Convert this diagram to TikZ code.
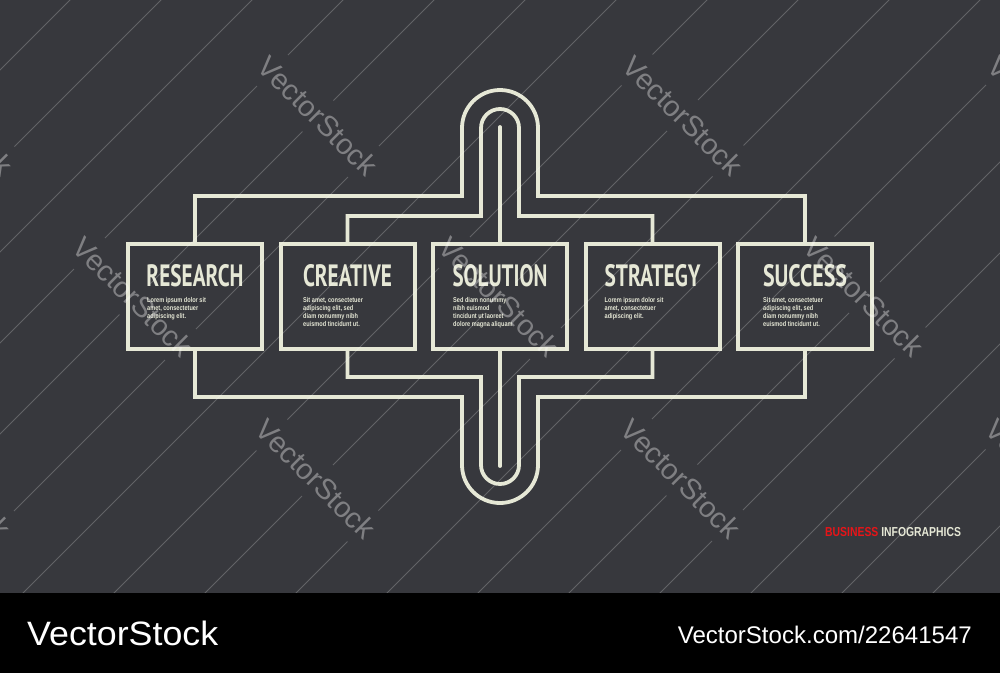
\documentclass[tikz,border=0pt]{standalone}
\usepackage{fontspec}
\usepackage{graphicx}
\setmainfont{Liberation Sans}
\newfontfamily\titlefont{PT Sans}
\newfontfamily\bodyfont{Liberation Sans}[FakeStretch=0.8]
\newfontfamily\infofont{Liberation Sans}[FakeStretch=0.8]
\definecolor{bg}{RGB}{55,56,61}
\definecolor{cream}{RGB}{230,232,214}
\definecolor{bred}{RGB}{232,20,24}
\tikzset{
  stepbox/.style={draw=cream, line width=4pt, minimum width=134pt, minimum height=105pt, inner sep=0pt},
  link/.style={draw=cream, line width=3.8pt},
  ttl/.style={text=cream, inner sep=0pt, font=\titlefont\bfseries},
  body/.style={text=cream, inner sep=0pt, anchor=north west, align=left, font=\bodyfont\bfseries\fontsize{7}{8}\selectfont},
  diag/.style={draw=white, draw opacity=0.22, line width=0.8pt},
  wm/.style={text=white, text opacity=0.36, inner sep=0pt, rotate=-45, font=\fontsize{29}{29}\selectfont}
}
\begin{document}
\begin{tikzpicture}[x=1pt,y=-1pt]
\useasboundingbox (0,0) rectangle (1000,673);
\fill[bg] (0,0) rectangle (1000,593);

% boxes
\node[stepbox] (b1) at (195,296.5) {};
\node[stepbox] (b2) at (347.5,296.5) {};
\node[stepbox] (b3) at (500,296.5) {};
\node[stepbox] (b4) at (652.5,296.5) {};
\node[stepbox] (b5) at (805,296.5) {};

\coordinate (ctop) at (500,127);
\coordinate (cbot) at (500,466);

% top frames
\draw[link] (b1.north) |- (462,196) -- (462,128) arc[start angle=180, end angle=360, radius=38] -- (538,196) -| (b5.north);
\draw[link] (b2.north) |- (481,216) -- (481,128) arc[start angle=180, end angle=360, radius=19] -- (519,216) -| (b4.north);
\draw[link, line cap=round] (ctop) -- (b3.north);
% bottom frames
\draw[link] (b1.south) |- (462,397) -- (462,465) arc[start angle=180, end angle=0, radius=38] -- (538,397) -| (b5.south);
\draw[link] (b2.south) |- (481,377) -- (481,465) arc[start angle=180, end angle=0, radius=19] -- (519,377) -| (b4.south);
\draw[link, line cap=round] (b3.south) -- (cbot);

% titles
\node[ttl] (t1) at (195,276) {\resizebox{97pt}{22pt}{RESEARCH}};
\node[ttl] (t2) at (347.5,276) {\resizebox{89pt}{22pt}{CREATIVE}};
\node[ttl] (t3) at (500,276) {\resizebox{95pt}{22pt}{SOLUTION}};
\node[ttl] (t4) at (652.5,276) {\resizebox{96pt}{22pt}{STRATEGY}};
\node[ttl] (t5) at (805,276) {\resizebox{84pt}{22pt}{SUCCESS}};

% bodies
\node[body] (d1) at (147,297) {Lorem ipsum dolor sit\\amet, consectetuer\\adipiscing elit.};
\node[body] (d2) at (303,297) {Sit amet, consectetuer\\adipiscing elit, sed\\diam nonummy nibh\\euismod tincidunt ut.};
\node[body] (d3) at (453,297) {Sed diam nonummy\\nibh euismod\\tincidunt ut laoreet\\dolore magna aliquam};
\node[body] (d4) at (604.5,297) {Lorem ipsum dolor sit\\amet, consectetuer\\adipiscing elit.};
\node[body] (d5) at (763,297) {Sit amet, consectetuer\\adipiscing elit, sed\\diam nonummy nibh\\euismod tincidunt ut.};

% label
\node[anchor=west, inner sep=0pt, font=\infofont\bfseries\fontsize{13}{13}\selectfont] (biz) at (825,532) {\textcolor{bred}{BUSINESS} \textcolor{cream}{INFOGRAPHICS}};

% watermark diagonal lines
\begin{scope}[even odd rule]
\clip (0,0) rectangle (1000,593)
  (26,158) -- (-5,189) -- (-120,74) -- (-89,43) -- cycle
  (391,158) -- (360,189) -- (245,74) -- (276,43) -- cycle
  (756,158) -- (725,189) -- (610,74) -- (641,43) -- cycle
  (1121,158) -- (1090,189) -- (975,74) -- (1006,43) -- cycle
  (206,339) -- (175,370) -- (60,255) -- (91,224) -- cycle
  (572,339) -- (541,370) -- (426,255) -- (457,224) -- cycle
  (937,339) -- (906,370) -- (791,255) -- (822,224) -- cycle
  (24,521) -- (-7,552) -- (-122,437) -- (-91,406) -- cycle
  (389,521) -- (358,552) -- (243,437) -- (274,406) -- cycle
  (754,521) -- (723,552) -- (608,437) -- (639,406) -- cycle
  (1119,521) -- (1088,552) -- (973,437) -- (1004,406) -- cycle;
\foreach \c in {70,161,...,1526} {
  \draw[diag] (\c+30,-30) -- (-30,\c+30);
}
\end{scope}

% watermark texts
\foreach \wx/\wy [count=\i] in {-47/116, 318/116, 683/116, 1048/116, 133/297, 499/297, 864/297, -49/479, 316/479, 681/479, 1046/479} {
  \node[wm] (wm\i) at (\wx,\wy) {VectorStock};
}

% bottom bar
\fill[black] (0,593) rectangle (1000,673);
\node[anchor=west, inner sep=0pt, text=white] (vs) at (27,633) {\resizebox{191pt}{24.5pt}{VectorStock}};
\node[anchor=east, inner sep=0pt, text=white] (vsurl) at (972,635) {\resizebox{294pt}{!}{\fontsize{24}{24}\selectfont VectorStock.com/22641547}};
\end{tikzpicture}
\end{document}
